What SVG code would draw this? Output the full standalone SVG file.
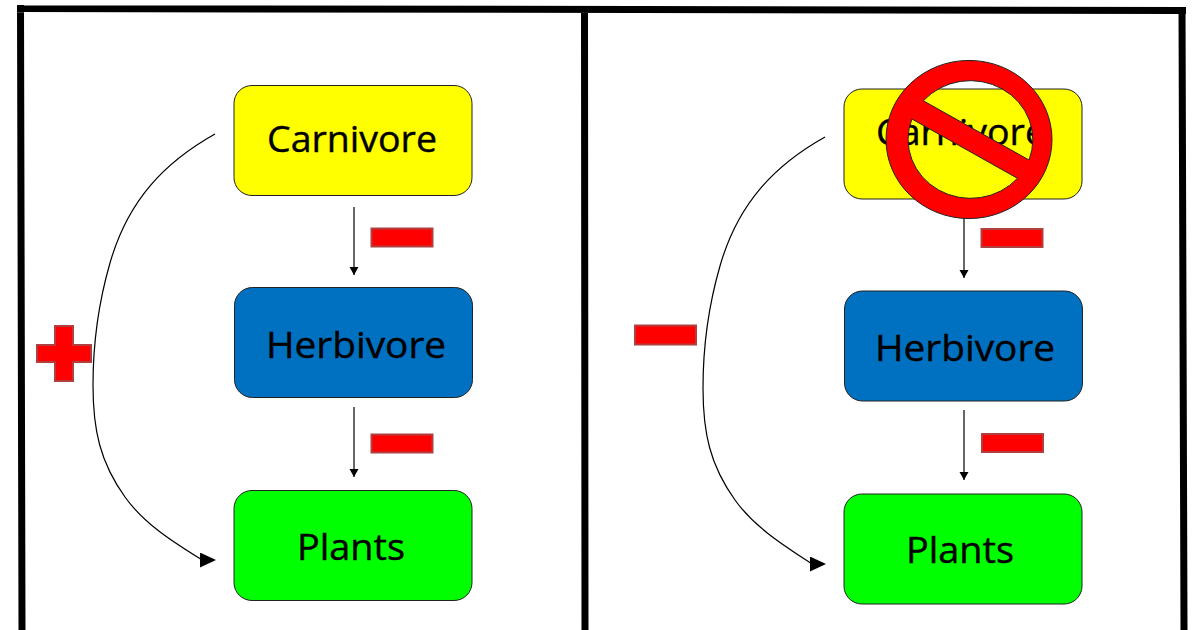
<svg xmlns="http://www.w3.org/2000/svg" width="1200" height="630" viewBox="0 0 1200 630">
<defs>
<marker id="a" markerUnits="userSpaceOnUse" markerWidth="12" markerHeight="12" refX="8" refY="4.500" orient="auto"><path d="M0 0L8 4.500L0 9Z" fill="#000"/></marker>
<marker id="b" markerUnits="userSpaceOnUse" markerWidth="20" markerHeight="20" refX="2" refY="7.500" orient="0"><path d="M0 0L16 7.500L0 15Z" fill="#000"/></marker>
</defs>
<style>
.n{stroke:#222;stroke-width:1}
.t{font-family:"Open Sans","DejaVu Sans",sans-serif;font-size:36px;fill:#000;stroke:#000;stroke-width:.4;text-anchor:middle}
.c{fill:none;stroke:#000;stroke-width:1.2}
.s{fill:#f00;stroke:#b04040;stroke-width:2}
.f{stroke:#000;stroke-width:7;fill:none}
</style>
<rect width="1200" height="630" fill="#fff"/>
<g id="frame"><path class="f" d="M17 8.500L1186 10.500M20.500 5L22 630M584.500 6L585 630M1182 7L1184 630"/></g>
<g id="connectors">
<path class="c" d="M354 207V275" marker-end="url(#a)"/>
<path class="c" d="M354 407V477" marker-end="url(#a)"/>
<path class="c" d="M964 217V278" marker-end="url(#a)"/>
<path class="c" d="M964 410V480" marker-end="url(#a)"/>
<path class="c" d="M215 134C165 162 128 200 110 263C99 301 93 340 93 385C93 430 100 462 125 497C145 525 175 543 202 560" marker-end="url(#b)"/>
<path class="c" d="M825 137C775 165 738 203 720 266C709 304 703 343 703 388C703 433 710 465 735 500C755 528 785 546 812 564" marker-end="url(#b)"/>
</g>
<g id="carnivore-left"><rect class="n" x="234" y="85.500" width="238" height="110" rx="18" fill="#ff0"/><text class="t" x="352" y="152" textLength="170" lengthAdjust="spacingAndGlyphs">Carnivore</text></g>
<g id="herbivore-left"><rect class="n" x="234.500" y="287.500" width="238" height="110" rx="18" fill="#0070c0"/><text class="t" x="356" y="358" textLength="180" lengthAdjust="spacingAndGlyphs">Herbivore</text></g>
<g id="plants-left"><rect class="n" x="234" y="490.500" width="238" height="110" rx="18" fill="#0f0"/><text class="t" x="351" y="560" textLength="108" lengthAdjust="spacingAndGlyphs">Plants</text></g>
<g id="carnivore-right"><rect class="n" x="844" y="89" width="238" height="110" rx="18" fill="#ff0"/><text class="t" x="961" y="145" textLength="170" lengthAdjust="spacingAndGlyphs">Carnivore</text></g>
<g id="herbivore-right"><rect class="n" x="844.500" y="291" width="238" height="110" rx="18" fill="#0070c0"/><text class="t" x="965" y="361" textLength="180" lengthAdjust="spacingAndGlyphs">Herbivore</text></g>
<g id="plants-right"><rect class="n" x="844" y="494" width="238" height="110" rx="18" fill="#0f0"/><text class="t" x="960" y="563" textLength="108" lengthAdjust="spacingAndGlyphs">Plants</text></g>
<g id="no-sign"><path fill="#f00" stroke="#222" stroke-width="1" fill-rule="evenodd" d="M886 139.500A83 79 0 1 1 1052 139.500A83 79 0 1 1 886 139.500ZM923.300 100.800A62.500 59 0 0 1 1029 160ZM911.900 119L1017.500 178.300A62.500 59 0 0 1 911.900 119Z"/></g>
<g id="signs">
<rect class="s" x="371.500" y="228.500" width="61" height="18"/>
<rect class="s" x="371.500" y="434.500" width="61" height="18"/>
<rect class="s" x="981.500" y="229" width="61" height="18"/>
<rect class="s" x="982" y="434" width="61" height="18"/>
<rect class="s" x="635" y="325.500" width="61" height="19"/>
<path class="s" d="M55 326H73V345H91V362H73V381H55V362H37V345H55Z"/>
</g>
</svg>
